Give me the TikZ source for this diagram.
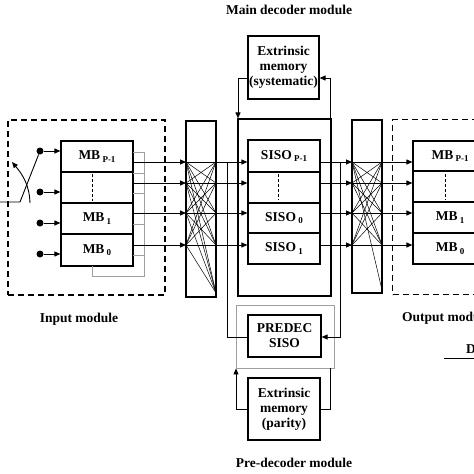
\documentclass[tikz,border=0pt]{standalone}
\usepackage{fontspec}
\setmainfont{Liberation Serif}
\usetikzlibrary{arrows.meta}
\newcommand\lblfont{\fontsize{13.5}{15}\selectfont\bfseries}
\newcommand\mysub[1]{\,\raisebox{-2.5pt}{\fontsize{9}{9}\selectfont #1}}
\tikzset{
  box/.style={draw, line width=1.2pt, inner sep=0pt, font=\lblfont, align=center},
  thinl/.style={line width=0.5pt},
  arr/.style={-{Triangle[length=6pt,width=5pt]}, line width=0.9pt},
  conn/.style={line width=0.9pt},
  dot/.style={circle, fill, inner sep=0pt, minimum size=7pt},
  dbox/.style={draw, line width=1.2pt, dash pattern=on 6pt off 4pt, inner sep=0pt},
  gline/.style={draw=gray!75, line width=0.8pt},
  dline/.style={line width=0.8pt, dash pattern=on 3pt off 2pt},
  lbl/.style={font=\lblfont, inner sep=0pt}
}
\begin{document}
\begin{tikzpicture}[x=1pt, y=-1pt]
\useasboundingbox (0,0) rectangle (474,474);
\clip (0,0) rectangle (474,474);
\fill[white] (0,0) rectangle (474,474);

% ---------------- Input module ----------------
\node[dbox, minimum width=157pt, minimum height=175pt] (inmod) at (86.5,207.5) {};
\node[box, minimum width=72pt, minimum height=31pt] (mbA) at (97,156.5) {MB\mysub{P-1}};
\node[box, minimum width=72pt, minimum height=31pt] (mbB) at (97,187.5) {};
\node[box, minimum width=72pt, minimum height=31pt] (mbC) at (97,218.5) {MB\mysub{1}};
\node[box, minimum width=72pt, minimum height=32pt] (mbD) at (97,250) {MB\mysub{0}};
\draw[dline] (92,174) -- (92,201);

\node[dot] (d1) at (40,151) {};
\node[dot] (d2) at (40,192) {};
\node[dot] (d3) at (40,223) {};
\node[dot] (d4) at (40,254) {};
\foreach \i in {1,...,4} {\draw[arr] (d\i) -- (d\i -| mbA.west);}
\coordinate (sw0) at (0,202);
\coordinate (sw1) at (20,202);
\draw[conn] (sw0) -- (sw1) -- (d1);
\coordinate (ca) at (30,203);
\coordinate (cb) at (12,162);
\draw[arr] (ca) to[out=92, in=-50] (cb);

% gray bus on input MB
\coordinate (gb) at (144,276);
\draw[gline] (144,152) -- (gb) -- (92,276) -- (92,266);
\foreach \y in {152,173,193,224,255} {\draw[gline] (133,\y) -- (144,\y);}

\node[lbl] (inlbl) at (79,319) {Input module};

% ---------------- Crossbar 1 ----------------
\node[box, minimum width=30pt, minimum height=176pt] (cb1) at (201,209) {};
\coordinate (cl1) at (186,162);
\coordinate (cl2) at (186,183);
\coordinate (cl3) at (186,213);
\coordinate (cl4) at (186,245);
\coordinate (cr1) at (216,162);
\coordinate (cr2) at (216,183);
\coordinate (cr3) at (216,213);
\coordinate (cr4) at (216,245);
\coordinate (cbot1) at (216,293);
\foreach \i in {1,...,4} {
  \foreach \j in {1,...,4} {\draw[thinl] (cl\i) -- (cr\j);}
  \draw[thinl] (cl\i) -- (cbot1);
  \draw[arr] (cl\i -| mbA.east) -- (cl\i);
}

% ---------------- Main decoder ----------------
\node[box, minimum width=93pt, minimum height=177pt] (main) at (284.5,207.5) {};
\node[box, minimum width=72pt, minimum height=32pt] (sA) at (284,156) {SISO\mysub{P-1}};
\node[box, minimum width=72pt, minimum height=31pt] (sB) at (284,187.5) {};
\node[box, minimum width=72pt, minimum height=30pt] (sC) at (284,218) {SISO\mysub{0}};
\node[box, minimum width=72pt, minimum height=31pt] (sD) at (284,248.5) {SISO\mysub{1}};
\draw[dline] (278,174) -- (278,200);
\foreach \i in {1,...,4} {\draw[arr] (cr\i) -- (cr\i -| sA.west);}

\node[lbl] (mainlbl) at (289,10) {Main decoder module};

% Extrinsic memory (systematic)
\node[box, minimum width=71pt, minimum height=63pt] (exs) at (283.5,67.5) {Extrinsic\\memory\\(systematic)};
\coordinate (exs1) at (238,78);
\coordinate (exs2) at (330,78);
\draw[arr] (exs.west |- exs1) -- (exs1) -- (exs1 |- main.north);
\draw[arr] (exs2 |- main.north) -- (exs2) -- (exs.east |- exs2);

% ---------------- Pre-decoder ----------------
\node[draw=gray!75, line width=0.9pt, minimum width=98pt, minimum height=63pt] (pmod) at (285,336.5) {};
\node[box, minimum width=73pt, minimum height=42pt] (pre) at (284.5,336) {PREDEC\\SISO};
\coordinate (vl1) at (227,162);
\coordinate (vl2) at (227,337);
\coordinate (vr1) at (340,162);
\coordinate (vr2) at (340,337);
\draw[conn] (vl1) -- (vl2) -- (vl2 -| pre.west);
\draw[arr] (vr1) -- (vr2) -- (vr2 -| pre.east);

\node[box, minimum width=72pt, minimum height=62pt] (exp) at (284,409) {Extrinsic\\memory\\(parity)};
\coordinate (ep1) at (236,409);
\coordinate (ep2) at (330,409);
\draw[arr] (exp.west |- ep1) -- (ep1) -- (ep1 |- pmod.south);
\draw[conn] (exp.east |- ep2) -- (ep2) -- (ep2 |- pmod.south);

\node[lbl] (prelbl) at (294,463) {Pre-decoder module};

% ---------------- Crossbar 2 ----------------
\node[box, minimum width=30pt, minimum height=173pt] (cb2) at (367,206.5) {};
\coordinate (dl1) at (352,162);
\coordinate (dl2) at (352,183);
\coordinate (dl3) at (352,213);
\coordinate (dl4) at (352,245);
\coordinate (dr1) at (382,162);
\coordinate (dr2) at (382,183);
\coordinate (dr3) at (382,213);
\coordinate (dr4) at (382,245);
\coordinate (cbot2) at (382,290);
\foreach \i in {1,...,4} {
  \foreach \j in {1,...,4} {\draw[thinl] (dl\i) -- (dr\j);}
  \draw[arr] (dl\i -| sA.east) -- (dl\i);
}
\draw[thinl] (dl1) -- (cbot2);

% ---------------- Output module ----------------
\node[dbox, minimum width=150pt, minimum height=175pt, anchor=north west] (outmod) at (392,119) {};
\node[box, minimum width=74pt, minimum height=30pt] (oA) at (450,156) {MB\mysub{P-1}};
\node[box, minimum width=74pt, minimum height=31pt] (oB) at (450,186.5) {};
\node[box, minimum width=74pt, minimum height=31pt] (oC) at (450,217.5) {MB\mysub{1}};
\node[box, minimum width=74pt, minimum height=31pt] (oD) at (450,248.5) {MB\mysub{0}};
\draw[dline] (445,174) -- (445,200);
\foreach \i in {1,...,4} {\draw[arr] (dr\i) -- (dr\i -| oA.west);}

\node[lbl, anchor=west] (outlbl) at (402,318) {Output module};
\node[lbl, anchor=west] (dlbl) at (466,349) {D};
\coordinate (ul1) at (444,358);
\coordinate (ul2) at (480,358);
\draw[line width=0.8pt] (ul1) -- (ul2);
\end{tikzpicture}
\end{document}
